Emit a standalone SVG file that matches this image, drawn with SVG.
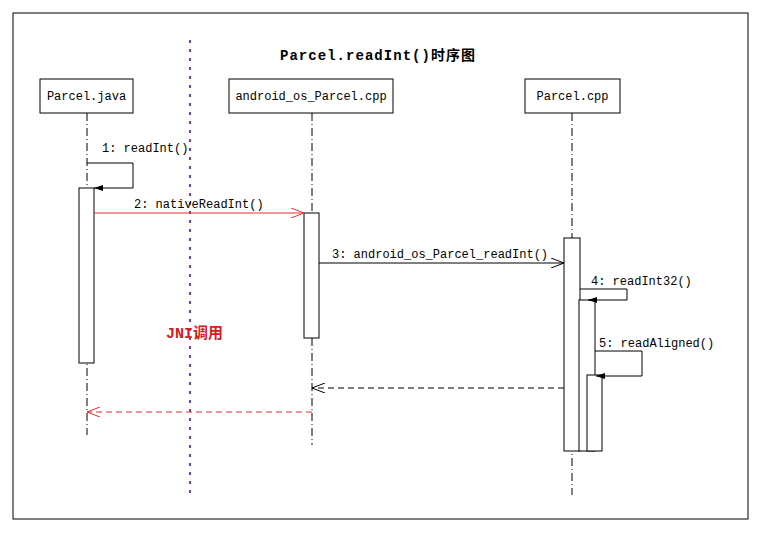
<svg xmlns="http://www.w3.org/2000/svg" width="760" height="537" viewBox="0 0 760 537">
<style>
text{font-family:"Liberation Mono","DejaVu Sans Mono","Noto Sans CJK SC",monospace;font-size:12px;fill:#000}
.box{fill:#fff;stroke:#000;stroke-width:1}
.life{stroke:#000;stroke-dasharray:8 3 1 3;fill:none}
.msg{stroke:#000;fill:none}
</style>
<defs>
<marker id="open" markerWidth="14" markerHeight="10" refX="13" refY="5" orient="auto" markerUnits="userSpaceOnUse"><path d="M0,0L13,5L0,10" fill="none" stroke="#000"/></marker>
<marker id="openr" markerWidth="14" markerHeight="10" refX="13" refY="5" orient="auto" markerUnits="userSpaceOnUse"><path d="M0,0L13,5L0,10" fill="none" stroke="#e03030"/></marker>
<marker id="fill" markerWidth="10" markerHeight="8" refX="9" refY="4" orient="auto" markerUnits="userSpaceOnUse"><path d="M0,1L9,4L0,7z" fill="#000"/></marker>
</defs>
<rect x="0" y="0" width="760" height="537" fill="#fff"/>
<rect x="13" y="13" width="735" height="506" fill="none" stroke="#000"/>
<line x1="190" y1="40" x2="190" y2="495" stroke="#7a3fa0" stroke-width="2" stroke-dasharray="3 6"/>
<text x="280" y="60" style="font-weight:bold;font-size:14px" textLength="195">Parcel.readInt()时序图</text>
<text x="166" y="338" style="font-weight:bold;font-size:15px;fill:#d42020">JNI调用</text>
<g id="parcel-java">
<rect class="box" x="40" y="79" width="93" height="34"/>
<text x="86.5" y="100" text-anchor="middle">Parcel.java</text>
<line class="life" x1="87" y1="113" x2="87" y2="435"/>
<rect class="box" x="79" y="188" width="15" height="175"/>
</g>
<g id="android-os-parcel">
<rect class="box" x="229" y="79" width="164" height="34"/>
<text x="311" y="100" text-anchor="middle">android_os_Parcel.cpp</text>
<line class="life" x1="312" y1="113" x2="312" y2="445"/>
<rect class="box" x="304" y="213" width="15" height="125"/>
</g>
<g id="parcel-cpp">
<rect class="box" x="525" y="79" width="95" height="34"/>
<text x="572.5" y="100" text-anchor="middle">Parcel.cpp</text>
<line class="life" x1="572" y1="113" x2="572" y2="495"/>
<rect class="box" x="564" y="238" width="16" height="213"/>
<rect class="box" x="579" y="300" width="16" height="151"/>
<rect class="box" x="587" y="375" width="15" height="76"/>
</g>
<g id="connectors">
<path class="msg" d="M87,163H133V188H94" marker-end="url(#fill)"/>
<text x="102" y="152">1: readInt()</text>
<line x1="94" y1="213" x2="304" y2="213" stroke="#e03030" marker-end="url(#openr)"/>
<text x="134" y="208">2: nativeReadInt()</text>
<line class="msg" x1="319" y1="263" x2="564" y2="263" marker-end="url(#open)"/>
<text x="332" y="258">3:  android_os_Parcel_readInt()</text>
<path class="msg" d="M580,289H627V300H588" marker-end="url(#fill)"/>
<text x="591" y="285">4: readInt32()</text>
<path class="msg" d="M595,351H642V376H596" marker-end="url(#fill)"/>
<text x="599" y="347">5: readAligned()</text>
<line class="msg" x1="564" y1="388" x2="312" y2="388" stroke-dasharray="6 4" marker-end="url(#open)"/>
<line x1="312" y1="412" x2="87" y2="412" stroke="#e03030" stroke-dasharray="6 4" marker-end="url(#openr)"/>
</g>
</svg>
